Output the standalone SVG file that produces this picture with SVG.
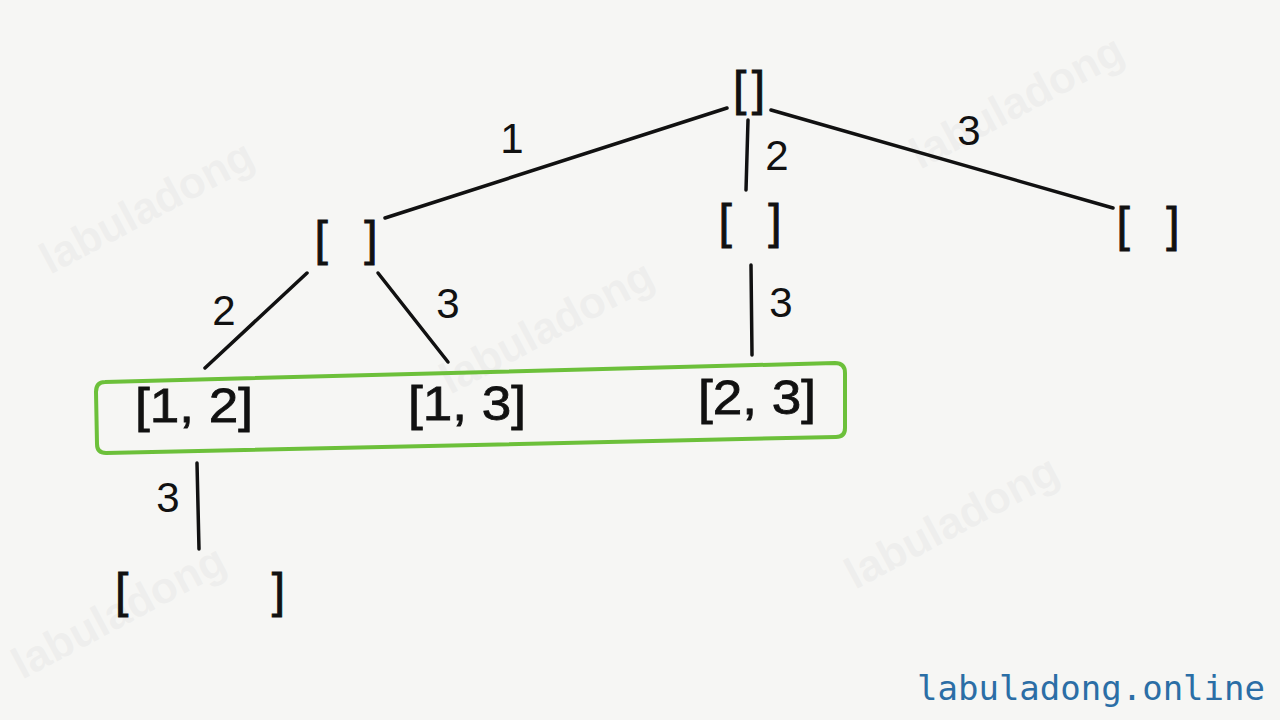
<svg xmlns="http://www.w3.org/2000/svg" width="1280" height="720" viewBox="0 0 1280 720">
<style>
.node{font-family:"Liberation Sans",Arial,sans-serif;font-size:48px;fill:#111;stroke:#111;stroke-width:0.8}
.lbl{font-family:"Liberation Sans",Arial,sans-serif;font-size:42px;fill:#111}
.edge{stroke:#111;stroke-width:3.5;stroke-linecap:round;fill:none}
.wm{font-family:"Liberation Sans",Arial,sans-serif;font-size:44px;font-weight:bold;fill:#d8d8d8;fill-opacity:0.25}
</style>
<rect width="1280" height="720" fill="#f6f6f4"/>
<g id="watermarks">
<text class="wm" transform="translate(50,275) rotate(-28)">labuladong</text>
<text class="wm" transform="translate(450,395) rotate(-28)">labuladong</text>
<text class="wm" transform="translate(920,170) rotate(-28)">labuladong</text>
<text class="wm" transform="translate(855,590) rotate(-28)">labuladong</text>
<text class="wm" transform="translate(22,680) rotate(-28)">labuladong</text>
</g>
<g id="connectors">
<line class="edge" x1="727" y1="108" x2="385" y2="218"/>
<line class="edge" x1="748" y1="120" x2="746" y2="190"/>
<line class="edge" x1="771" y1="110" x2="1113" y2="208"/>
<line class="edge" x1="307" y1="273" x2="205" y2="368"/>
<line class="edge" x1="378" y1="273" x2="448" y2="362"/>
<line class="edge" x1="751" y1="265" x2="752" y2="355"/>
<line class="edge" x1="197" y1="463" x2="199" y2="549"/>
<text class="lbl" x="512" y="153" text-anchor="middle">1</text>
<text class="lbl" x="777" y="170" text-anchor="middle">2</text>
<text class="lbl" x="969" y="145" text-anchor="middle">3</text>
<text class="lbl" x="224" y="325" text-anchor="middle">2</text>
<text class="lbl" x="448" y="318" text-anchor="middle">3</text>
<text class="lbl" x="781" y="317" text-anchor="middle">3</text>
<text class="lbl" x="168" y="512" text-anchor="middle">3</text>
</g>
<g id="group-box">
<path d="M105,382 L835,363 Q845,363 845,373 L845,428 Q845,437 836,437 L106,453 Q97,453 97,444 L96,392 Q96,382 105,382 Z" fill="none" stroke="#6cc03a" stroke-width="4" stroke-linejoin="round"/>
</g>
<g id="n-root"><text class="node" x="749" y="105" text-anchor="middle" textLength="32" lengthAdjust="spacing">[]</text></g>
<g id="n-1"><text class="node" x="346" y="255" text-anchor="middle" textLength="63" lengthAdjust="spacing">[ ]</text></g>
<g id="n-2"><text class="node" x="750" y="238" text-anchor="middle" textLength="63" lengthAdjust="spacing">[ ]</text></g>
<g id="n-3"><text class="node" x="1148" y="241" text-anchor="middle" textLength="63" lengthAdjust="spacing">[ ]</text></g>
<g id="n-12"><text class="node" x="194" y="422" text-anchor="middle" textLength="118" lengthAdjust="spacingAndGlyphs">[1, 2]</text></g>
<g id="n-13"><text class="node" x="467" y="420" text-anchor="middle" textLength="118" lengthAdjust="spacingAndGlyphs">[1, 3]</text></g>
<g id="n-23"><text class="node" x="757" y="414" text-anchor="middle" textLength="118" lengthAdjust="spacingAndGlyphs">[2, 3]</text></g>
<g id="n-123"><text class="node" x="200" y="607" text-anchor="middle" textLength="170" lengthAdjust="spacing">[      ]</text></g>
<g id="footer"><text x="1265" y="700" text-anchor="end" font-family="DejaVu Sans Mono,monospace" font-size="34" fill="#2b6ea6">labuladong.online</text></g>
</svg>
